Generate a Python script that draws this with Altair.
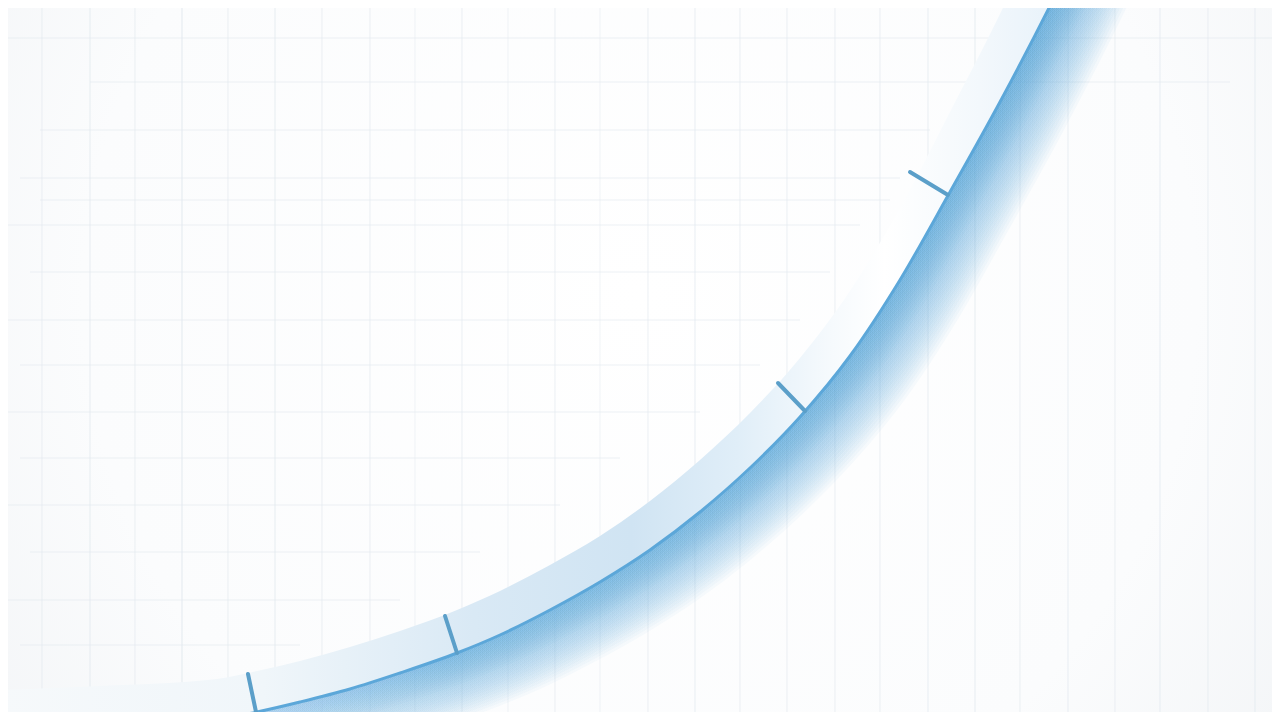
import altair as alt
import pandas as pd

# ---- data (x in px from left, h in px from bottom) ----
curve_x = [217, 257, 300, 350, 400, 457, 500, 550, 600, 650, 700, 750, 800, 850,
           900, 950, 1000, 1053, 1080]
curve_h = [0, 8, 18, 31, 47, 67, 85, 110, 138, 170, 208, 252, 303, 364,
           440, 528, 618, 720, 775]

ribbon_x = [0, 100, 217, 257, 300, 350, 400, 457, 500, 550, 600, 650, 700, 750,
            800, 850, 900, 950, 1000, 1053]
ribbon_top = [30, 34, 41, 49, 59, 73, 89, 110, 129, 155, 184, 219, 260, 307,
              362, 429, 512, 608, 706, 820]
ribbon_bot = [0, 0, 0, 8, 18, 31, 47, 67, 85, 110, 138, 170, 208, 252,
              303, 364, 440, 528, 618, 720]

tick_x1 = [248, 445, 778, 910]
tick_h1 = [46, 104, 337, 548]
tick_x2 = [256, 457, 805, 948]
tick_h2 = [8, 67, 309, 525]

vgrid_x = [42, 90, 135, 182, 228, 275, 322, 370, 415, 462, 508, 555, 600, 648,
           695, 740, 787, 835, 880, 928, 975, 1020, 1068, 1115, 1160, 1208, 1255]
vgrid_op = [0.5, 0.7, 0.5, 0.8, 0.5, 0.7, 0.5, 0.5, 0.4, 0.5, 0.4, 0.5, 0.4, 0.5,
            0.6, 0.5, 0.5, 0.5, 0.5, 0.6, 0.7, 0.5, 0.6, 0.5, 0.6, 0.5, 0.6]

hgrid_h = [682, 638, 590, 542, 520, 495, 448, 400, 355, 308, 262, 215, 168, 120, 75]
hgrid_x1 = [0, 90, 40, 20, 40, 0, 30, 0, 20, 0, 20, 0, 30, 0, 20]
hgrid_x2 = [1280, 1230, 930, 900, 890, 860, 830, 800, 760, 700, 620, 560, 480, 400, 300]

curve = pd.DataFrame({"x": curve_x, "h": curve_h})
ribbon = pd.DataFrame({"x": ribbon_x, "top": ribbon_top, "bot": ribbon_bot})
ticks = pd.DataFrame({"x": tick_x1, "h": tick_h1, "x2": tick_x2, "h2": tick_h2})
vgrid = pd.DataFrame({"x": vgrid_x, "op": vgrid_op})
hgrid = pd.DataFrame({"h": hgrid_h, "x1": hgrid_x1, "x2": hgrid_x2})

W, H = 1264, 704
xs = alt.Scale(domain=[8, 1272], nice=False, zero=False)
ys = alt.Scale(domain=[8, 712], nice=False, zero=False)

bg = alt.Chart(pd.DataFrame({"a": [0]})).mark_rect(
    color={"gradient": "radial",
           "stops": [{"offset": 0, "color": "#ffffff"},
                     {"offset": 0.55, "color": "#fbfcfd"},
                     {"offset": 1, "color": "#eceff2"}],
           "x1": 0.5, "y1": 0.45, "r1": 0, "x2": 0.5, "y2": 0.45, "r2": 0.8}
).encode(x=alt.value(0), x2=alt.value(W), y=alt.value(0), y2=alt.value(H))

vg = alt.Chart(vgrid).mark_rule(color="#e1e8ee", strokeWidth=1.2).encode(
    x=alt.X("x:Q", scale=xs, axis=None),
    opacity=alt.Opacity("op:Q", scale=None, legend=None),
)

hg = alt.Chart(hgrid).mark_rule(color="#e1e8ee", strokeWidth=1.2, opacity=0.6).encode(
    x=alt.X("x1:Q", scale=xs, axis=None), x2="x2:Q",
    y=alt.Y("h:Q", scale=ys, axis=None),
)

layers = [bg, vg, hg]

shadow_grad = {"gradient": "linear",
               "stops": [{"offset": 0.0, "color": "#9fcae8"},
                         {"offset": 0.25, "color": "#5fa8d8"},
                         {"offset": 1.0, "color": "#4c9dd3"}],
               "x1": 0, "x2": 1, "y1": 0, "y2": 0}
for k in range(1, 25):
    off = 1.15 * k
    layers.append(
        alt.Chart(curve).mark_line(
            clip=True, color=shadow_grad, strokeWidth=2.5 * off + 2,
            opacity=0.075 if k < 12 else 0.045,
            xOffset=off, yOffset=off * 0.75, interpolate="monotone",
        ).encode(x=alt.X("x:Q", scale=xs, axis=None),
                 y=alt.Y("h:Q", scale=ys, axis=None))
    )

rib = alt.Chart(ribbon).mark_area(
    clip=True, interpolate="monotone",
    color={"gradient": "linear",
           "stops": [{"offset": 0.0, "color": "#f6f9fb"},
                     {"offset": 0.25, "color": "#f0f6fa"},
                     {"offset": 0.45, "color": "#d9e9f5"},
                     {"offset": 0.6, "color": "#d0e4f3"},
                     {"offset": 0.7, "color": "#e0eef8"},
                     {"offset": 0.79, "color": "#f6fafd"},
                     {"offset": 0.84, "color": "#ffffff"},
                     {"offset": 0.93, "color": "#f3f8fc"},
                     {"offset": 1.0, "color": "#e8f2fa"}],
           "x1": 0, "x2": 1, "y1": 0, "y2": 0},
).encode(
    x=alt.X("x:Q", scale=xs, axis=None),
    y=alt.Y("top:Q", scale=ys, axis=None),
    y2="bot:Q",
)
layers.append(rib)

layers.append(
    alt.Chart(curve).mark_line(
        clip=True, color="#5ca7d9", strokeWidth=3, interpolate="monotone",
    ).encode(x=alt.X("x:Q", scale=xs, axis=None),
             y=alt.Y("h:Q", scale=ys, axis=None))
)

layers.append(
    alt.Chart(ticks).mark_rule(color="#5b9fc9", strokeWidth=4, strokeCap="round").encode(
        x=alt.X("x:Q", scale=xs, axis=None), x2="x2:Q",
        y=alt.Y("h:Q", scale=ys, axis=None), y2="h2:Q",
    )
)

chart = alt.layer(*layers).properties(
    width=W, height=H, padding=0, autosize=alt.AutoSizeParams(type="none"),
    background="#f3f5f7",
).configure_view(stroke=None)

chart.save("out.html", embed_options={"renderer": "svg", "actions": False})
